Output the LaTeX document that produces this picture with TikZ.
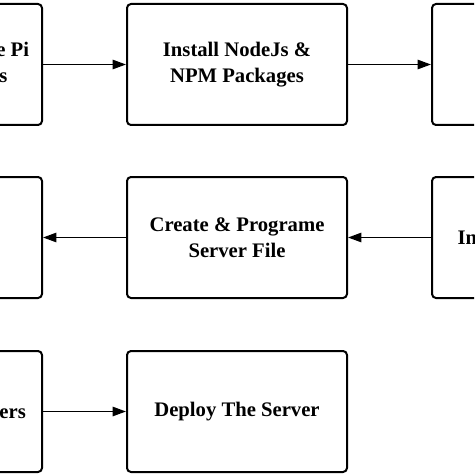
\documentclass[tikz,border=0pt]{standalone}
\usepackage{fontspec}
\setmainfont{Liberation Serif}
\usetikzlibrary{arrows.meta, positioning}

\begin{document}
\begin{tikzpicture}[%
        x = 0.75pt,
        y = -0.75pt,
        > = {Triangle[length = 10pt, width = 7pt]},
        stage/.style = {
            draw,
            line width = 1.5pt,
            rounded corners = 3pt,
            minimum width = 165pt,
            minimum height = 90.75pt,
            align = center,
            font = \fontsize{15.5}{19.5}\selectfont\bfseries
        },
        flow/.style = {->, line width = 1.2pt}
    ]

        % Fix the frame of the picture.
        \useasboundingbox (0, 0) rectangle (474, 474);
        \clip (0, 0) rectangle (474, 474);

        % First row of stages.
        \node[stage] (setup) at (-68, 64.5) {Flash OS Onto The Pi\\Update Packages};
        \node[stage] (npm) at (237, 64.5) {Install NodeJs \&\\NPM Packages};
        \node[stage] (code) at (542, 64.5) {};

        % Second row of stages, running from right to left.
        \node[stage] (modules) at (542, 237.5) {Install All Modules};
        \node[stage] (server) at (237, 237.5) {Create \& Programe\\Server File};
        \node[stage] (run) at (-68, 237.5) {};

        % Third row of stages.
        \node[stage] (test) at (-68, 411.5) {Test On All Browsers};
        \node[stage] (deploy) at (237, 411.5) {Deploy The Server};

        % Arrows between the stages.
        \draw[flow] (setup) to (npm);
        \draw[flow] (npm) to (code);
        \draw[flow] (modules) to (server);
        \draw[flow] (server) to (run);
        \draw[flow] (test) to (deploy);
    \end{tikzpicture}
\end{document}
